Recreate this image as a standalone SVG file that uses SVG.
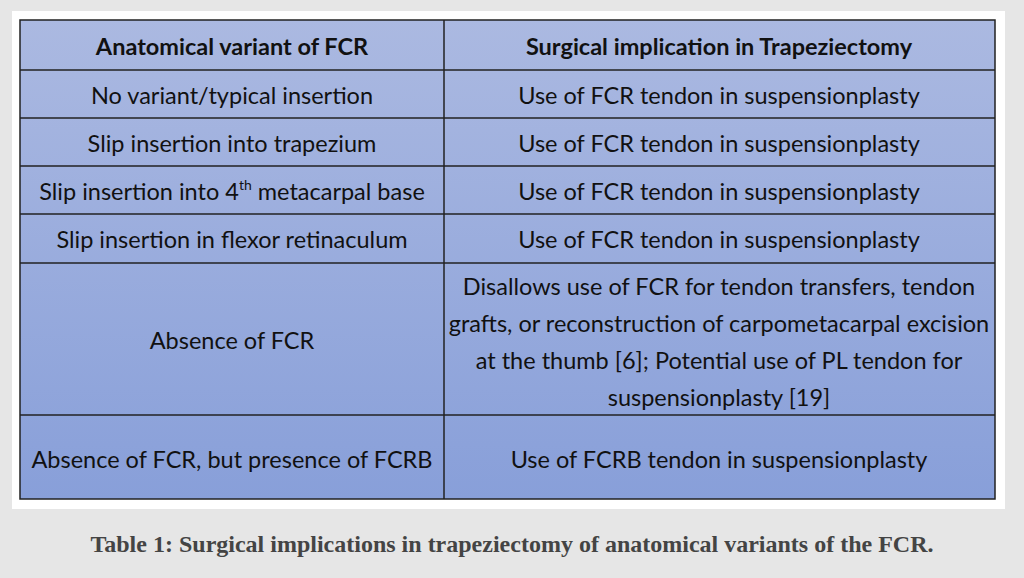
<svg xmlns="http://www.w3.org/2000/svg" width="1024" height="578" viewBox="0 0 1024 578">
<defs>
<linearGradient id="g" x1="0" y1="0" x2="0" y2="1">
<stop offset="0" stop-color="#abb9e1"/><stop offset="1" stop-color="#889fd9"/>
</linearGradient>
<style>
.t{font-family:Lato,"Open Sans",sans-serif;font-size:23.5px;fill:#111;text-anchor:middle}
.h{font-weight:bold}
.l{stroke:#222;stroke-width:1.5;fill:none}
.c{font-family:"Liberation Serif",serif;font-weight:bold;font-size:24px;fill:#444;text-anchor:middle}
</style>
</defs>
<rect width="1024" height="578" fill="#e6e6e6"/>
<rect x="12" y="11" width="993" height="498" fill="#fff"/>
<rect x="20" y="20" width="975" height="479" fill="url(#g)"/>
<g id="grid">
<rect class="l" x="20" y="20" width="975" height="479"/>
<line class="l" x1="444" y1="20" x2="444" y2="499"/>
<line class="l" x1="20" y1="70" x2="995" y2="70"/>
<line class="l" x1="20" y1="118" x2="995" y2="118"/>
<line class="l" x1="20" y1="166" x2="995" y2="166"/>
<line class="l" x1="20" y1="214" x2="995" y2="214"/>
<line class="l" x1="20" y1="263" x2="995" y2="263"/>
<line class="l" x1="20" y1="415" x2="995" y2="415"/>
</g>
<g id="text">
<text class="t h" x="232" y="55">Anatomical variant of FCR</text>
<text class="t h" x="719" y="55">Surgical implication in Trapeziectomy</text>
<text class="t" x="232" y="104">No variant/typical insertion</text>
<text class="t" x="719" y="104">Use of FCR tendon in suspensionplasty</text>
<text class="t" x="232" y="152">Slip insertion into trapezium</text>
<text class="t" x="719" y="152">Use of FCR tendon in suspensionplasty</text>
<text class="t" x="232" y="200">Slip insertion into 4<tspan font-size="14" dy="-10">th</tspan><tspan dy="10"> metacarpal base</tspan></text>
<text class="t" x="719" y="200">Use of FCR tendon in suspensionplasty</text>
<text class="t" x="232" y="248">Slip insertion in flexor retinaculum</text>
<text class="t" x="719" y="248">Use of FCR tendon in suspensionplasty</text>
<text class="t" x="232" y="349">Absence of FCR</text>
<text class="t" x="719" y="295">Disallows use of FCR for tendon transfers, tendon</text>
<text class="t" x="719" y="332">grafts, or reconstruction of carpometacarpal excision</text>
<text class="t" x="719" y="369">at the thumb [6]; Potential use of PL tendon for</text>
<text class="t" x="719" y="406">suspensionplasty [19]</text>
<text class="t" x="232" y="468">Absence of FCR, but presence of FCRB</text>
<text class="t" x="719" y="468">Use of FCRB tendon in suspensionplasty</text>
</g>
<text class="c" x="512" y="552">Table 1: Surgical implications in trapeziectomy of anatomical variants of the FCR.</text>
</svg>
